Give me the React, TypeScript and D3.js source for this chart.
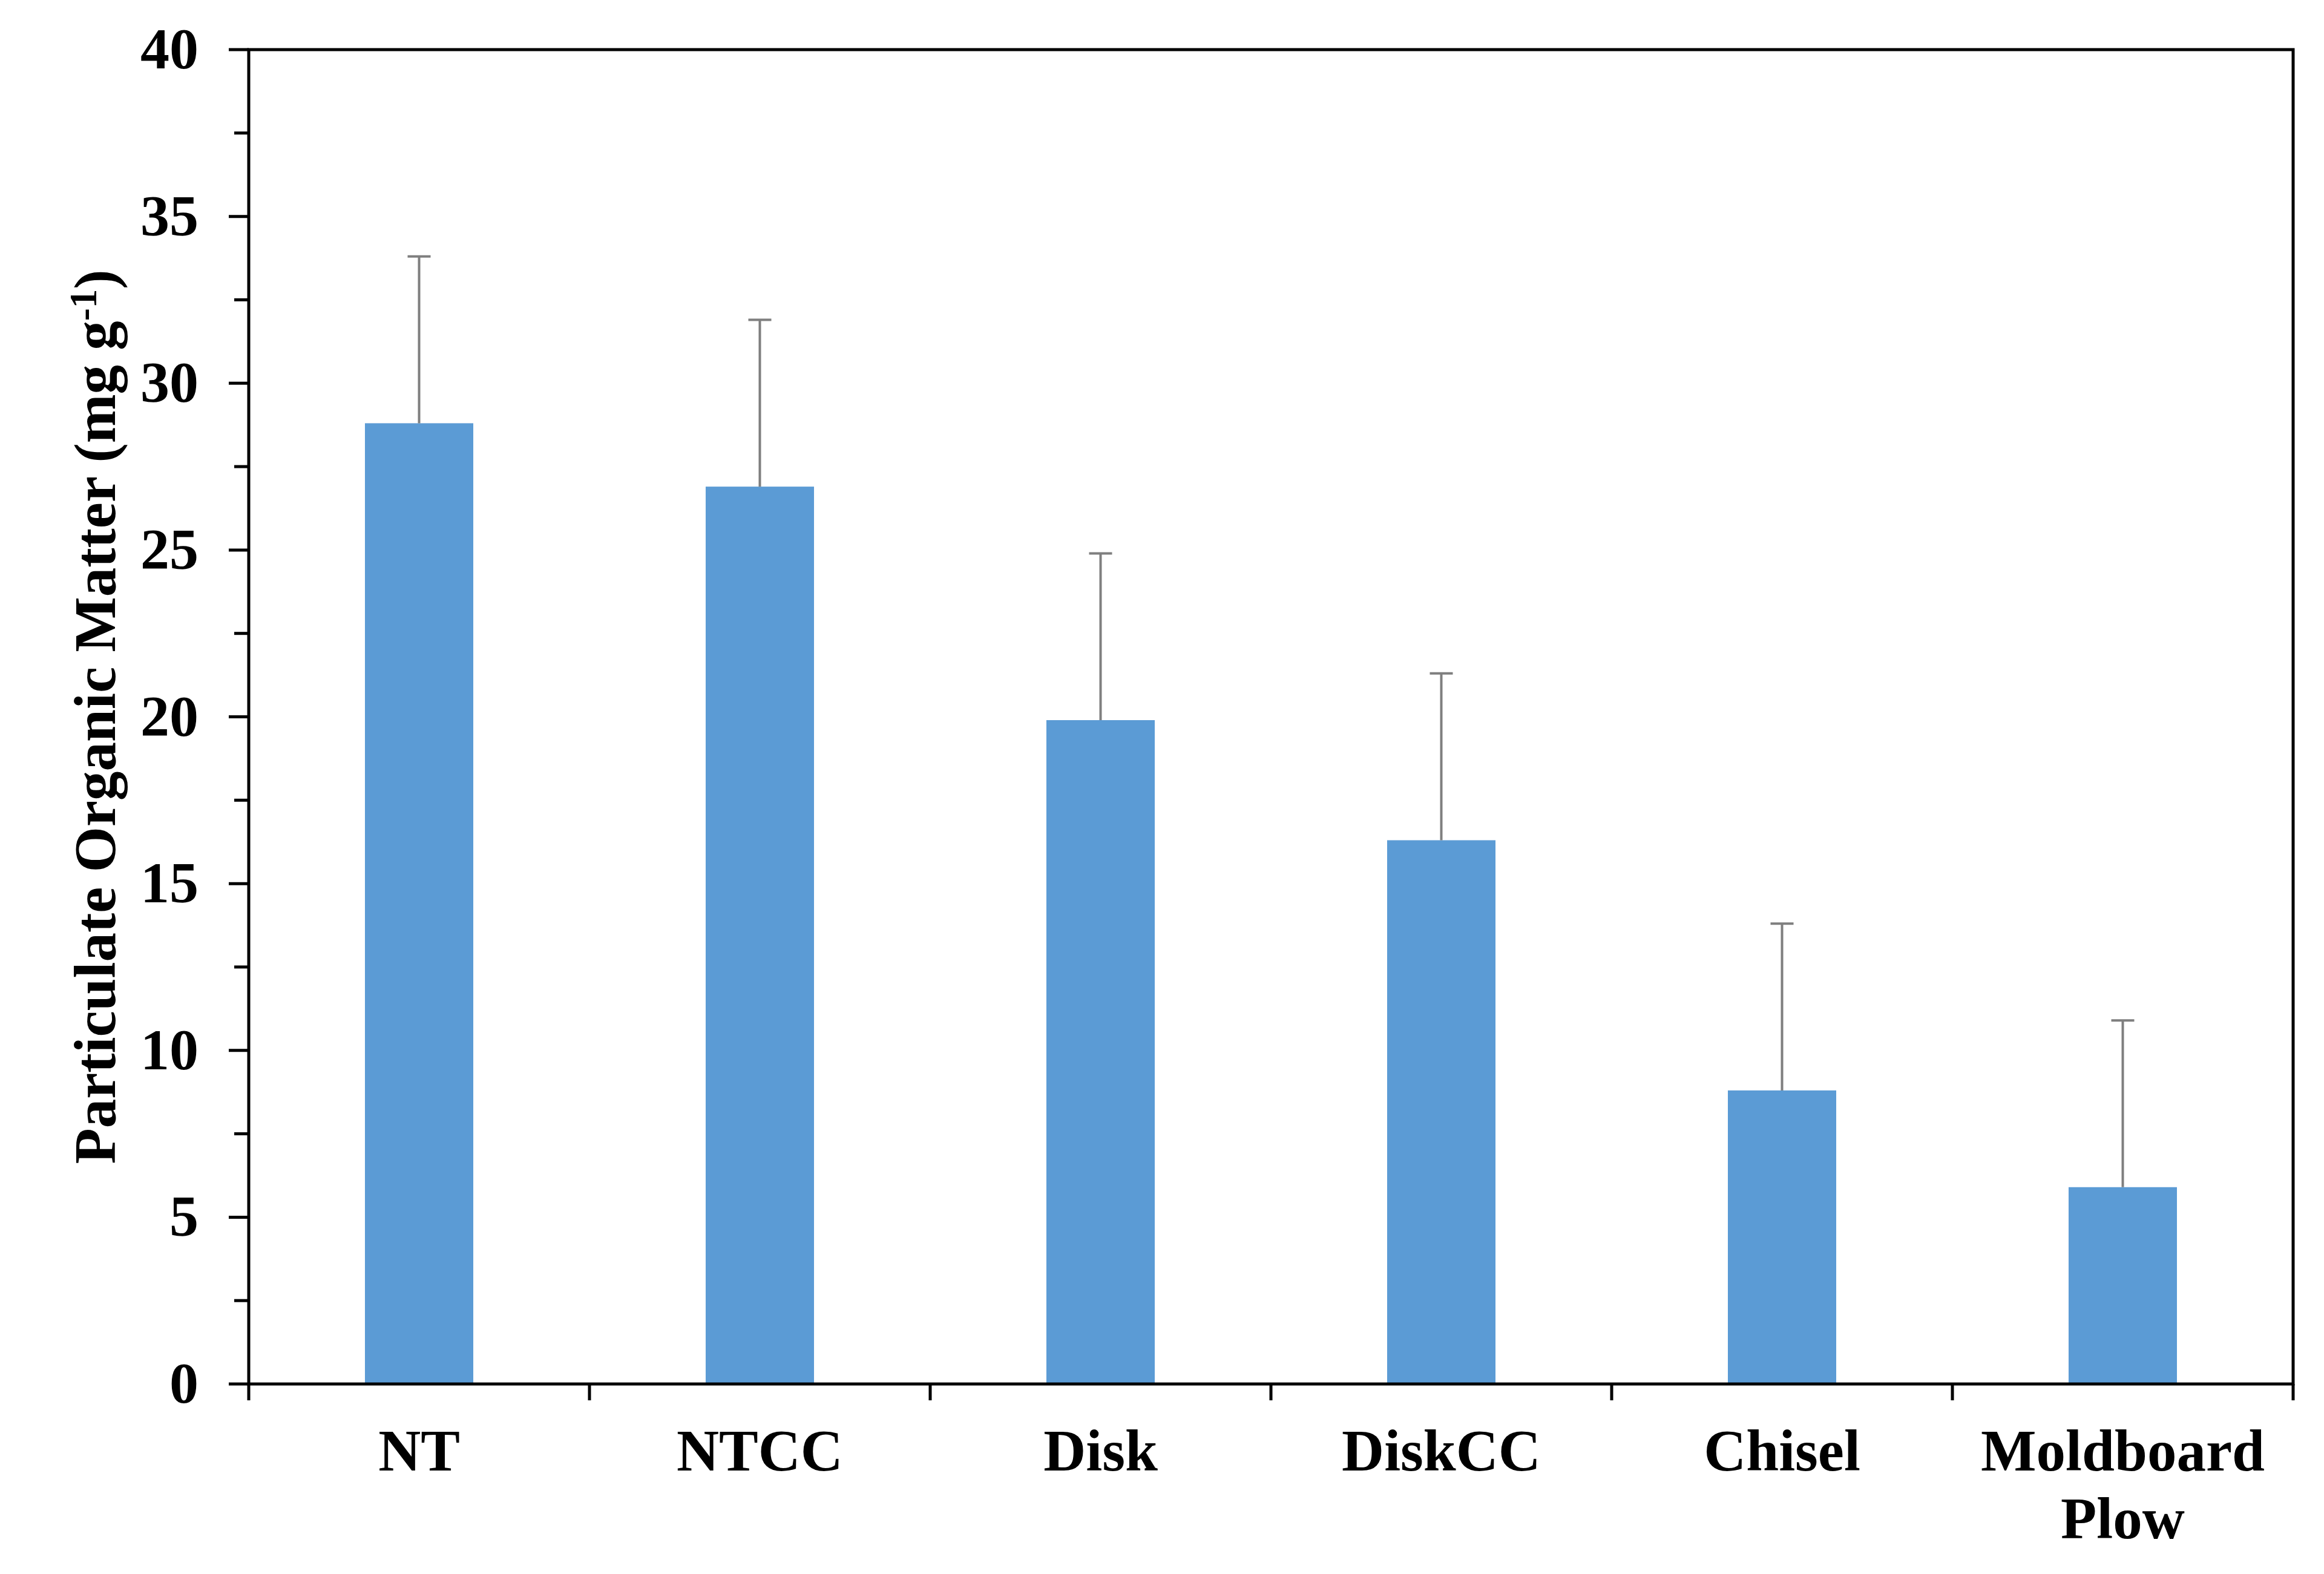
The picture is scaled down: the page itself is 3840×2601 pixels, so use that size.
import React from "react";
import * as d3 from "d3";

const categories = ["NT", "NTCC", "Disk", "DiskCC", "Chisel", "Moldboard\nPlow"];
const values = [28.8, 26.9, 19.9, 16.3, 8.8, 5.9];
const errors = [5.0, 5.0, 5.0, 5.0, 5.0, 5.0];
const yMajorTicks = [0, 5, 10, 15, 20, 25, 30, 35, 40];
const yMinorTicks = [2.5, 7.5, 12.5, 17.5, 22.5, 27.5, 32.5, 37.5];

const W = 3840;
const H = 2601;
const left = 411;
const right = 3789;
const top = 82;
const bottom = 2287;
const FONT = "'Liberation Serif', 'Times New Roman', serif";

export default function App() {
  const x = d3
    .scaleBand<string>()
    .domain(categories)
    .range([left, right])
    .paddingInner(0)
    .paddingOuter(0);
  const y = d3.scaleLinear().domain([0, 40]).range([bottom, top]);
  const barW = x.bandwidth() * 0.318;
  const boundaries = d3.range(categories.length + 1).map((i) => left + i * x.bandwidth());

  return (
    <svg
      width={W}
      height={H}
      viewBox={`0 0 ${W} ${H}`}
      style={{ position: "absolute", left: 0, top: 0, background: "#fff" }}
    >
      <rect x={0} y={0} width={W} height={H} fill="#fff" />
      {/* bars */}
      {categories.map((c, i) => {
        const cx = (x(c) as number) + x.bandwidth() / 2;
        return (
          <rect
            key={c}
            x={cx - barW / 2}
            y={y(values[i])}
            width={barW}
            height={y(0) - y(values[i])}
            fill="#5B9BD5"
          />
        );
      })}
      {/* error bars */}
      {categories.map((c, i) => {
        const cx = (x(c) as number) + x.bandwidth() / 2;
        const yt = y(values[i] + errors[i]);
        return (
          <g key={"e" + c} stroke="#7F7F7F" strokeWidth={4}>
            <line x1={cx} x2={cx} y1={y(values[i])} y2={yt} />
            <line x1={cx - 19} x2={cx + 19} y1={yt} y2={yt} />
          </g>
        );
      })}
      {/* frame */}
      <rect
        x={left}
        y={top}
        width={right - left}
        height={bottom - top}
        fill="none"
        stroke="#000"
        strokeWidth={5}
      />
      {/* y ticks */}
      {yMajorTicks.map((t) => (
        <line key={"M" + t} x1={left - 33} x2={left} y1={y(t)} y2={y(t)} stroke="#000" strokeWidth={5} />
      ))}
      {yMinorTicks.map((t) => (
        <line key={"m" + t} x1={left - 24} x2={left} y1={y(t)} y2={y(t)} stroke="#000" strokeWidth={5} />
      ))}
      {yMajorTicks.map((t) => (
        <text
          key={"l" + t}
          x={328}
          y={y(t) + 31}
          textAnchor="end"
          fontFamily={FONT}
          fontWeight="bold"
          fontSize={96}
          fill="#000"
        >
          {t}
        </text>
      ))}
      {/* x ticks */}
      {boundaries.map((b, i) => (
        <line key={"xt" + i} x1={b} x2={b} y1={bottom} y2={bottom + 27} stroke="#000" strokeWidth={5} />
      ))}
      {/* x labels */}
      {categories.map((c) => {
        const cx = (x(c) as number) + x.bandwidth() / 2;
        const lines = c.split("\n");
        return (
          <text
            key={"xl" + c}
            x={cx}
            y={bottom + 143}
            textAnchor="middle"
            fontFamily={FONT}
            fontWeight="bold"
            fontSize={97}
            fill="#000"
          >
            {lines.map((ln, j) => (
              <tspan key={j} x={cx} dy={j === 0 ? 0 : 112}>
                {ln}
              </tspan>
            ))}
          </text>
        );
      })}
      {/* y title */}
      <text
        transform={`translate(190, ${(top + bottom) / 2}) rotate(-90)`}
        textAnchor="middle"
        fontFamily={FONT}
        fontWeight="bold"
        fontSize={97}
        fill="#000"
      >
        Particulate Organic Matter (mg g
        <tspan fontSize={63} dy={-31}>-1</tspan>
        <tspan dy={31}>)</tspan>
      </text>
    </svg>
  );
}
